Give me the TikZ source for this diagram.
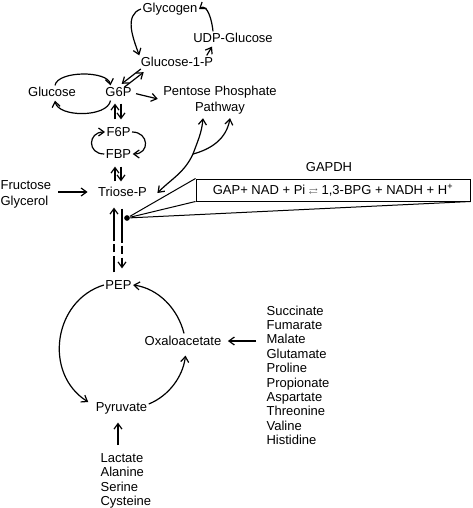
\documentclass[tikz,border=0pt]{standalone}
\usepackage{fontspec}
\setmainfont{Liberation Sans}
\usepackage{amssymb}
\usetikzlibrary{arrows.meta,positioning}
\begin{document}
\begin{tikzpicture}[x=1pt, y=-1pt, line width=1.2pt, >={Straight Barb[length=5.5pt,width=8pt]},
  met/.style={inner sep=1pt, text height=10pt, text depth=2pt, font=\fontsize{13}{15.5}\selectfont},
  lst/.style={inner sep=1pt, align=left, font=\fontsize{13}{14.4}\selectfont},
  dashup/.style={dash pattern=on 16pt off 4pt on 8pt off 3pt on 80pt},
  dashdown/.style={dash pattern=on 34pt off 3pt on 8pt off 4pt on 80pt}]
  \useasboundingbox (0, 0) rectangle (473, 508);
  \node [met] (glycogen) at (170, 9) {Glycogen};
  \node [met] (udp) at (233, 39) {UDP-Glucose};
  \node [met] (g1p) at (177, 63) {Glucose-1-P};
  \node [met] (glucose) at (52, 93) {Glucose};
  \node [met] (g6p) at (118.5, 93) {G6P};
  \node [lst, align=center, anchor=north] (ppp) at (220, 84) {Pentose Phosphate\\[2pt]Pathway};
  \node [met] (f6p) at (118.5, 132) {F6P};
  \node [met] (fbp) at (118.5, 154) {FBP};
  \node [met] (triose) at (122.5, 192) {Triose-P};
  \node [lst, anchor=west] (fruct) at (-1, 194) {Fructose\\[1.6pt]Glycerol};
  \node [met, draw, line width=1pt, minimum width=274pt, minimum height=22pt] (gapbox) at (333, 190) {GAP+ NAD + Pi ${\scriptstyle\rightleftarrows}$ 1,3-BPG + NADH + H\textsuperscript{+}};
  \node [met, above=3pt of gapbox, xshift=-4pt] (gapdh) {GAPDH};
  \node [circle, fill, inner sep=2pt] (dot) at (127, 218) {};
  \node [met] (pep) at (118.5, 285) {PEP};
  \node [met] (oxa) at (183, 341) {Oxaloacetate};
  \node [met] (pyr) at (121.5, 407) {Pyruvate};
  \node [lst, anchor=north west] (aminos) at (265, 304) {Succinate\\Fumarate\\Malate\\Glutamate\\Proline\\Propionate\\Aspartate\\Threonine\\Valine\\Histidine};
  \node [lst, anchor=north west] (lactate) at (99, 452) {Lactate\\Alanine\\Serine\\Cysteine};
  \coordinate (fork) at (193, 154);

  \draw [->] (glycogen.west) to [out=200, in=110] (g1p.north west);
  \draw [->] ([xshift=-8pt]g1p.north east) -- ([xshift=-21pt]udp.south);
  \draw [->] ([xshift=-20pt]udp.north) to [out=95, in=35] (glycogen.east);
  \draw [->] ([xshift=3pt]glucose.north) to [out=80, in=100, looseness=0.7] ([xshift=-8pt]g6p.north);
  \draw [->] ([xshift=-8pt]g6p.south) to [out=-100, in=-80, looseness=0.8] ([xshift=3pt]glucose.south);
  \draw [->, transform canvas={shift={(1.4pt,-1.6pt)}}] ([xshift=-10pt]g6p.north east) -- ([xshift=3pt]g1p.south west);
  \draw [<-, transform canvas={shift={(-1.4pt,1.6pt)}}] ([xshift=-10pt]g6p.north east) -- ([xshift=3pt]g1p.south west);
  \draw [->, shorten <=3pt, shorten >=4pt] (g6p.east) -- (ppp.west);
  \draw [->, shorten <=5pt, shorten >=3pt] ([xshift=-3.5pt]f6p.north) -- ([xshift=-3.5pt]g6p.south);
  \draw [->, shorten <=3pt, shorten >=5pt] ([xshift=2.5pt]g6p.south) -- ([xshift=2.5pt]f6p.north);
  \draw [->] (fbp.west) to [out=180, in=180, looseness=2] (f6p.west);
  \draw [->] (f6p.east) to [out=0, in=0, looseness=2] (fbp.east);
  \draw [->, shorten <=3pt, shorten >=5pt] ([xshift=-7.5pt]triose.north) -- ([xshift=-3.5pt]fbp.south);
  \draw [->, shorten <=5pt, shorten >=3pt] ([xshift=2.5pt]fbp.south) -- ([xshift=-1.5pt]triose.north);
  \draw [->, shorten <=5.5pt, shorten >=9pt] (fruct.east |- triose.west) -- (triose.west);
  \draw [->, dashup, shorten <=5pt, shorten >=8pt] ([xshift=-4.5pt]pep.north) -- ([xshift=-8.5pt]triose.south);
  \draw [->, dashdown, shorten <=9pt, shorten >=9pt] ([xshift=-0.5pt]triose.south) -- ([xshift=3.5pt]pep.north);
  \draw [line width=1pt] (dot) -- (gapbox.north west);
  \draw [line width=1pt] (dot) -- (gapbox.south west);
  \draw [line width=1pt] (dot) -- (gapbox.south east);
  \draw [->] (fork) to [out=70, in=-95] ([xshift=-17pt, yshift=-2.5pt]ppp.south);
  \draw [->] (fork) to [out=15, in=-100] ([xshift=10pt, yshift=-2.5pt]ppp.south);
  \draw [->] (fork) to [out=245, in=45] ([xshift=9pt, yshift=-1pt]triose.east);
  \draw [->] (pep.west) to [out=197, in=148, looseness=1.15] ([xshift=-6pt, yshift=5pt]pyr.west);
  \draw [->] ([yshift=3pt]pyr.east) to [out=22, in=-97, looseness=0.9] ([xshift=2.5pt, yshift=-7pt]oxa.south);
  \draw [->] ([xshift=1pt]oxa.north) to [out=104, in=-8, looseness=0.93] (pep.east);
  \draw [->, shorten <=9pt, shorten >=5pt] (aminos.west |- oxa.east) -- (oxa.east);
  \draw [->, shorten <=7pt, shorten >=8pt, transform canvas={xshift=-3.5pt}] (pyr.south |- lactate.north) -- (pyr.south);
\end{tikzpicture}
\end{document}
